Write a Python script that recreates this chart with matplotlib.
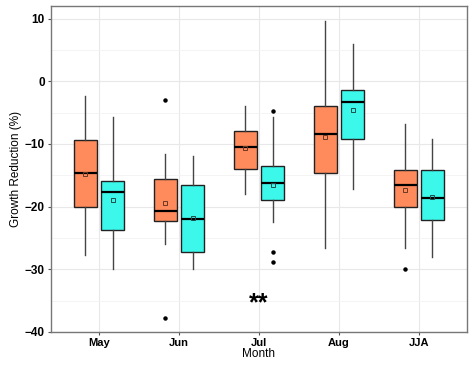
import matplotlib
matplotlib.use("Agg")
import matplotlib.pyplot as plt
from matplotlib.ticker import MultipleLocator
import numpy as np

plt.rcParams['font.family'] = ['Liberation Sans', 'DejaVu Sans']

categories = ["May", "Jun", "Jul", "Aug", "JJA"]

# group A (orange) stats: whislo, q1, med, q3, whishi, mean
a_whislo = [-27.7, -26.0, -18.0, -26.6, -26.6]
a_q1 = [-20.1, -22.3, -14.0, -14.7, -20.1]
a_med = [-14.6, -20.7, -10.5, -8.45, -16.5]
a_q3 = [-9.35, -15.6, -8.0, -3.9, -14.2]
a_whishi = [-2.4, -11.6, -4.0, 9.6, -6.8]
a_mean = [-14.8, -19.45, -10.7, -8.9, -17.4]
a_fliers = [[], [-3.0, -37.7], [], [], [-30.0]]

# group B (cyan)
b_whislo = [-30.0, -30.0, -22.4, -17.2, -28.1]
b_q1 = [-23.7, -27.3, -19.0, -9.2, -22.2]
b_med = [-17.6, -21.95, -16.3, -3.35, -18.55]
b_q3 = [-15.9, -16.5, -13.5, -1.37, -14.1]
b_whishi = [-5.7, -11.9, -5.7, 6.0, -9.2]
b_mean = [-19.0, -21.8, -16.6, -4.56, -18.5]
b_fliers = [[], [], [-4.8, -27.3, -28.8], [], []]

annot_text = "**"
annot_cat = 2
annot_y = -35.4

col_a = "#FF8A5B"
col_b = "#3CF8EA"

fig = plt.figure(figsize=(4.74, 3.67), dpi=100)
ax = fig.add_axes([0.1076, 0.0954, 0.8774, 0.8883])

def stats(whislo, q1, med, q3, whishi, mean, fliers):
    out = []
    for i in range(len(med)):
        out.append(dict(whislo=whislo[i], q1=q1[i], med=med[i], q3=q3[i],
                        whishi=whishi[i], mean=mean[i], fliers=fliers[i]))
    return out

pos = np.arange(1, len(categories) + 1)
off = 0.17
w = 0.285
for st, p, col, mc in [(stats(a_whislo, a_q1, a_med, a_q3, a_whishi, a_mean, a_fliers), pos - off, col_a, "#6B3A22"),
                       (stats(b_whislo, b_q1, b_med, b_q3, b_whishi, b_mean, b_fliers), pos + off, col_b, "#1F4D4A")]:
    ax.bxp(st, positions=p, widths=w, patch_artist=True, showmeans=True,
           showcaps=False,
           boxprops=dict(facecolor=col, edgecolor="#222222", linewidth=1.0),
           medianprops=dict(color="black", linewidth=1.6),
           whiskerprops=dict(color="#444444", linewidth=1.0),
           flierprops=dict(marker='o', markerfacecolor='black', markeredgecolor='black', markersize=2.2),
           meanprops=dict(marker='s', markerfacecolor='none', markeredgecolor=mc,
                          markersize=3, markeredgewidth=0.7),
           zorder=3)

ax.text(pos[annot_cat], annot_y, annot_text, ha='center', va='center', fontsize=18, fontweight='bold')

ax.set_xlim(0.4, 5.6)
ax.set_ylim(-40, 12)
ax.set_xticks(pos)
ax.set_xticklabels(categories, fontweight='bold', fontsize=8)
ax.yaxis.set_major_locator(MultipleLocator(10))
ax.yaxis.set_minor_locator(MultipleLocator(5))
for lbl in ax.get_yticklabels():
    lbl.set_fontweight('bold')
    lbl.set_fontsize(8.5)
ax.tick_params(axis='both', which='major', length=2.5, color='#555555', pad=2)
ax.tick_params(axis='y', which='minor', length=0)
ax.grid(True, which='major', color='#E8E8E8', linewidth=0.8, zorder=0)
ax.grid(True, which='minor', axis='y', color='#F3F3F3', linewidth=0.6, zorder=0)
ax.set_axisbelow(True)
for s in ax.spines.values():
    s.set_color('#777777')
    s.set_linewidth(1.0)
ax.set_xlabel("Month", fontsize=8.5, labelpad=0)
ax.set_ylabel("Growth Reduction (%)", fontsize=8.5, labelpad=2)

fig.savefig("out.png", dpi=100)
